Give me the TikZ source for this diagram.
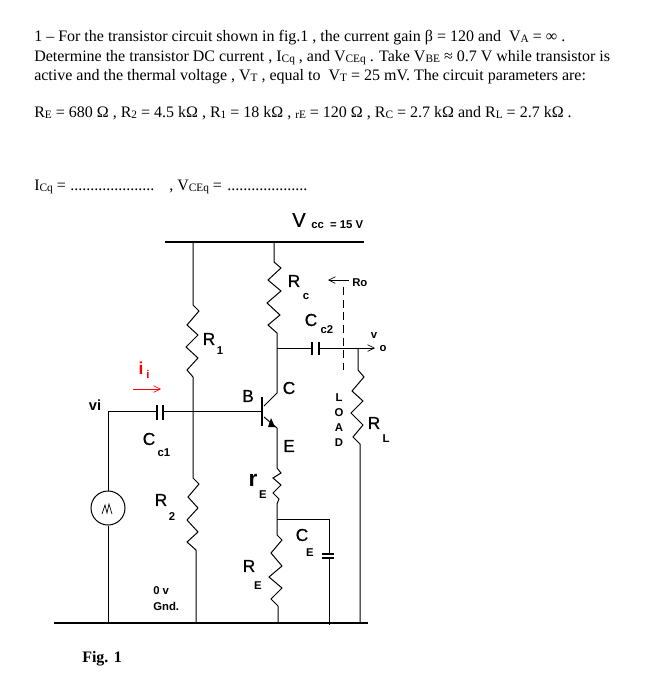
\documentclass[tikz,border=0pt]{standalone}
\usepackage{fontspec}
\setmainfont{Liberation Serif}
\setsansfont{Liberation Sans}
\newfontfamily\labf[FakeBold=0.6]{Liberation Sans}
\usetikzlibrary{arrows.meta}
\newcommand{\sbs}[1]{\raisebox{-0.2ex}{\fontsize{8.5}{9}\selectfont #1}}
\tikzset{
  wire/.style={draw=black,line width=0.75pt,line join=miter},
  rail/.style={draw=black,line width=2.2pt},
  plate/.style={draw=black,line width=1.5pt},
  para/.style={anchor=base west,inner sep=0,font=\fontsize{12}{14}\selectfont},
  big/.style={inner sep=0,font=\labf\fontsize{13}{14}\selectfont},
  small/.style={inner sep=0,font=\sffamily\bfseries\fontsize{8.5}{10}\selectfont},
  openarrow/.style={-{Straight Barb[length=5pt,width=5pt,line width=0.5pt]},line width=0.6pt},
}
\begin{document}
\begin{tikzpicture}[x=0.75pt,y=-0.75pt]
\useasboundingbox (0,0) rectangle (650,694);
\fill[white] (0,0) rectangle (650,694);
% text
\node[para] (t1) at (34,41) {1 -- For the transistor circuit shown in fig.1 , the current gain β = 120 and~~V\sbs{A} = ∞ .};
\node[para] (t2) at (34,61) {Determine the transistor DC current , I\sbs{Cq} , and V\sbs{CEq} . Take V\sbs{BE} ≈ 0.7 V while transistor is};
\node[para] (t3) at (34,80) {active and the thermal voltage , V\sbs{T} , equal to~~V\sbs{T} = 25 mV. The circuit parameters are:};
\node[para] (t4) at (34,117) {R\sbs{E} = 680 Ω , R\sbs{2} = 4.5 kΩ , R\sbs{1} = 18 kΩ , \sbs{rE} = 120 Ω , R\sbs{C} = 2.7 kΩ and R\sbs{L} = 2.7 kΩ .};
\node[para] (t5a) at (34,190) {I\sbs{Cq} =};
\node[para] (t5b) at (70,190) {.....................};
\node[para] (t5c) at (169,190) {, V\sbs{CEq} =};
\node[para] (t5d) at (227,190) {....................};
\node[para,font=\bfseries\fontsize{12}{14}\selectfont] (fig) at (82,662) {Fig. 1};
% rails
\coordinate (vccL) at (165,242); \coordinate (vccR) at (364,242);
\coordinate (gndL) at (54,623); \coordinate (gndR) at (368,623);
\draw[rail] (vccL) -- (vccR);
\draw[rail] (gndL) -- (gndR);
% R1, R2
\coordinate (r1top) at (193,242);
\coordinate (r1a) at (193,305);
\coordinate (r1b) at (193,377);
\coordinate (bj) at (193,411);
\coordinate (r2a) at (193,478);
\coordinate (r2b) at (196,550);
\coordinate (r2g) at (196,623);
\draw[wire] (r1top) -- (r1a) -- ++(6,6) -- ++(-12,14) -- ++(11,10) -- ++(-12,12) -- ++(12,11) -- ++(-11,12) -- (r1b) -- (bj) -- (r2a)
  -- ++(6,6) -- ++(-11,13) -- ++(10,11) -- ++(-11,12) -- ++(11,12) -- ++(-11,10) -- (r2b) -- (r2g);
% Rc
\coordinate (rctop) at (274,242);
\coordinate (rca) at (274,262);
\coordinate (rcb) at (277,333);
\coordinate (c2j) at (277,348);
\coordinate (cc) at (277,393);
\coordinate (ci) at (264,406);
\draw[wire] (rctop) -- (rca) -- ++(7,6) -- ++(-13,12) -- ++(13,11) -- ++(-14,12) -- ++(13,12) -- ++(-12,10) -- (rcb) -- (c2j) -- (cc) -- (ci);
% transistor
\coordinate (bartop) at (262,397); \coordinate (barbot) at (262,426);
\draw[line width=2.2pt] (bartop) -- (barbot);
\coordinate (base) at (262,411);
\coordinate (ei) at (264,417);
\coordinate (ee) at (277,428);
\draw[wire] (ei) -- (ee);
\coordinate (a1) at (275,427); \coordinate (a2) at (268,427); \coordinate (a3) at (271,418);
\fill (a1) -- (a2) -- (a3) -- cycle;
% base wire & Cc1
\coordinate (c1l) at (157,411); \coordinate (c1r) at (163,411);
\coordinate (vi) at (108,411);
\draw[wire] (c1r) -- (base);
\draw[plate] (157,405) -- (157,420);
\draw[plate] (163,405) -- (163,420);
% source
\node[draw,circle,line width=0.75pt,minimum size=25.5pt,inner sep=0] (src) at (108,508) {};
\draw[line width=0.5pt] (102,514) -- (105,505) -- (107,513) -- (109,504) -- (112,514);
\coordinate (srcg) at (108,623);
\draw[wire] (c1l) -- (vi) -- (src.north);
\draw[wire] (src.south) -- (srcg);
% emitter branch
\coordinate (rea) at (277,468);
\coordinate (reb) at (277,503);
\coordinate (ej) at (277,519);
\coordinate (rra) at (277,535);
\coordinate (rrb) at (278,606);
\coordinate (rrg) at (278,623);
\draw[wire] (ee) -- (rea) -- ++(4,5) -- ++(-8,5) -- ++(8,7) -- ++(-8,8) -- ++(6,6) -- ++(-2,5) -- (reb) -- (ej) -- (rra)
  -- ++(5,5) -- ++(-11,13) -- ++(11,13) -- ++(-13,11) -- ++(13,11) -- ++(-11,11) -- ++(7,7) -- (rrb) -- (rrg);
% CE
\coordinate (cej) at (329,519);
\coordinate (cet) at (329,554);
\coordinate (ceb) at (329,558);
\coordinate (ceg) at (329,625);
\draw[wire] (ej) -- (cej) -- (cet);
\draw[wire] (ceb) -- (ceg);
\draw[plate] (322,554) -- (334,554);
\draw[plate] (322,558) -- (334,558);
% Cc2 and output
\coordinate (c2l) at (312,348); \coordinate (c2r) at (319,348);
\coordinate (rlj) at (358,348);
\coordinate (vo) at (375,348);
\draw[wire] (c2j) -- (c2l);
\draw[plate] (312,342) -- (312,355);
\draw[plate] (319,342) -- (319,355);
\draw[wire] (c2r) -- (rlj);
\draw[openarrow] (rlj) -- (vo);
% RL
\coordinate (rla) at (358,370);
\coordinate (rlb) at (360,444);
\coordinate (rlg) at (360,623);
\draw[wire] (rlj) -- (rla) -- ++(6,7) -- ++(-12,14) -- ++(11,10) -- ++(-12,12) -- ++(12,12) -- ++(-10,12) -- (rlb) -- (rlg);
% dashed and Ro
\coordinate (dt) at (343,287); \coordinate (db) at (343,370);
\draw[line width=0.6pt,dash pattern=on 6pt off 3.5pt] (dt) -- (db);
\node[small,anchor=west] (ro) at (352,283) {Ro};
\coordinate (roa) at (349,280);
\coordinate (rob) at (328,280);
\draw[openarrow] (roa) -- (rob);
% red current
\coordinate (ia) at (133,389); \coordinate (ib) at (161,389);
\draw[red,openarrow] (ia) -- (ib);
\node[big,red,font=\sffamily\bfseries\fontsize{13}{14}\selectfont] (ii1) at (141,368) {i};
\node[small,red] (ii2) at (148,374) {i};
% labels
\node[big,font=\labf\fontsize{15}{16}\selectfont] (lv) at (299,220) {V};
\node[small,anchor=west] (lcc) at (311,225) {cc~ = 15 V};
\node[big] (lr1) at (209,339) {R};
\node[small] (lr11) at (220,351) {1};
\node[big] (lrc) at (294,281) {R};
\node[small] (lrcs) at (306,296) {c};
\node[big] (lcc2) at (311,320) {C};
\node[small] (lcc2s) at (327,330) {c2};
\node[small] (lv0) at (374,335) {v};
\node[small] (lo) at (383,348) {o};
\node[big] (lb) at (248,396) {B};
\node[big] (lc) at (289,388) {C};
\node[big] (le) at (289,446) {E};
\node[big,font=\sffamily\bfseries\fontsize{11}{12}\selectfont] (lvi) at (95,405) {vi};
\node[big] (lcc1) at (149,439) {C};
\node[small] (lcc1s) at (164,453) {c1};
\node[big] (lr2) at (161,500) {R};
\node[small] (lr22) at (172,517) {2};
\node[big,font=\sffamily\bfseries\fontsize{17}{18}\selectfont] (lrr) at (253,480) {r};
\node[small] (lrre) at (263,495) {E};
\node[big] (lce) at (302,535) {C};
\node[small] (lces) at (310,553) {E};
\node[big] (lre) at (249,566) {R};
\node[small] (lres) at (258,586) {E};
\node[big] (lrl) at (374,423) {R};
\node[small] (lrls) at (386,439) {L};
\node[small,align=center,font=\sffamily\bfseries\fontsize{8.5}{11.25}\selectfont] (load) at (339,420.5) {L\\O\\A\\D};
\node[small,anchor=west] (l0v) at (153,591) {0 v};
\node[small,anchor=west] (lgnd) at (153,606) {Gnd.};
\end{tikzpicture}
\end{document}
